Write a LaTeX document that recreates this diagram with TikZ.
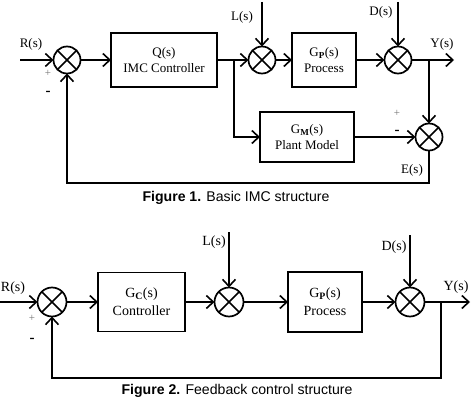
\documentclass[tikz,border=0pt]{standalone}
\usepackage{fontspec}
\setmainfont{Liberation Serif}
\newfontfamily\capfont{Liberation Sans}
\usetikzlibrary{arrows.meta}
\begin{document}
\begin{tikzpicture}[x=1pt,y=-1pt,
  line width=1.7pt,
  arr/.style={-{Straight Barb[length=7pt,width=13pt,line width=1.6pt]}},
  sumnode/.style={circle,draw,minimum size=27pt,inner sep=0pt,outer sep=0pt,
    path picture={\draw (path picture bounding box.center) ++(45:16pt) -- ++(225:32pt)
      (path picture bounding box.center) ++(135:16pt) -- ++(-45:32pt);}},
  sumbig/.style={sumnode,minimum size=29pt},
  block/.style={draw,rectangle,inner sep=0pt,outer sep=0pt,align=center},
  lblA/.style={inner sep=0pt,font=\fontsize{13}{16}\selectfont},
  lblB/.style={inner sep=0pt,font=\fontsize{14}{18}\selectfont},
  plus/.style={inner sep=0pt,text=black!55,font=\fontsize{11}{11}\selectfont},
  minus/.style={inner sep=0pt,font=\fontsize{15}{15}\selectfont\bfseries},
  captext/.style={inner sep=0pt,font=\capfont\fontsize{14.1}{16}\selectfont}
]
\useasboundingbox (0,0) rectangle (474,401);

% ---------------- Figure 1 ----------------
\coordinate (rin1) at (20,60);
\node[sumnode] (c1) at (67,60) {};
\node[block,lblA,minimum width=106pt,minimum height=54pt] (Q) at (164,60) {Q(s)\\IMC Controller};
\coordinate (b1) at (234,60);
\node[sumnode] (c2) at (262,60) {};
\node[block,lblA,minimum width=64pt,minimum height=54pt] (GP1) at (324,60) {G\textsubscript{\textbf{P}}(s)\\Process};
\node[sumnode] (c3) at (398,60) {};
\coordinate (b2) at (429,60);
\coordinate (yout1) at (454,60);
\node[sumnode] (c4) at (429,137) {};
\node[block,lblA,minimum width=94pt,minimum height=50pt] (GM) at (307,137) {G\textsubscript{\textbf{M}}(s)\\Plant Model};
\coordinate (ltop1) at (262,2);
\coordinate (dtop1) at (398,2);
\coordinate (fb1) at (429,183);

\node[lblA] (R1) at (31,44) {R(s)};
\node[lblA] (L1) at (242,17) {L(s)};
\node[lblA] (D1) at (381,12) {D(s)};
\node[lblA] (Y1) at (442,44) {Y(s)};
\node[lblA] (E1) at (412,170) {E(s)};
\node[plus] (p1) at (48,73) {+};
\node[minus] (m1) at (48,93) {-};
\node[plus] (p2) at (397,113) {+};
\node[minus] (m2) at (397,132) {-};

\draw[arr] (rin1) -- (c1);
\draw[arr] (c1) -- (Q);
\draw (Q) -- (b1);
\draw[arr] (b1) -- (c2);
\draw[arr] (ltop1) -- (c2);
\draw[arr] (c2) -- (GP1);
\draw[arr] (GP1) -- (c3);
\draw[arr] (dtop1) -- (c3);
\draw (c3) -- (b2);
\draw[arr] (b2) -- (yout1);
\draw[arr] (b1) |- (GM.west);
\draw[arr] (b2) -- (c4);
\draw[arr] (GM) -- (c4);
\draw[arr] (c4) -- (fb1) -| (c1);

\node[captext] (cap1) at (236,198) {\textbf{Figure 1.} Basic IMC structure};

% ---------------- Figure 2 ----------------
\coordinate (rin2) at (0,302);
\node[sumbig] (cA) at (52,302) {};
\node[block,lblB,minimum width=87pt,minimum height=59pt] (GC) at (141.5,302) {G\textsubscript{\textbf{C}}(s)\\Controller};
\node[sumbig] (cB) at (229,302) {};
\node[block,lblB,minimum width=74pt,minimum height=60pt] (GP2) at (325,302) {G\textsubscript{\textbf{P}}(s)\\Process};
\node[sumbig] (cC) at (410,302) {};
\coordinate (b3) at (441,302);
\coordinate (yout2) at (470,302);
\coordinate (ltop2) at (229,232);
\coordinate (dtop2) at (410,235);
\coordinate (fb2) at (441,378);

\node[lblB] (R2) at (13,288) {R(s)};
\node[lblB] (L2) at (214,242) {L(s)};
\node[lblB] (D2) at (394,247) {D(s)};
\node[lblB] (Y2) at (456,287) {Y(s)};
\node[plus] (p3) at (32,318) {+};
\node[minus] (m3) at (32,340) {-};

\draw[arr] (rin2) -- (cA);
\draw[arr] (cA) -- (GC);
\draw[arr] (GC) -- (cB);
\draw[arr] (ltop2) -- (cB);
\draw[arr] (cB) -- (GP2);
\draw[arr] (GP2) -- (cC);
\draw[arr] (dtop2) -- (cC);
\draw (cC) -- (b3);
\draw[arr] (b3) -- (yout2);
\draw[arr] (b3) -- (fb2) -| (cA);

\node[captext] (cap2) at (237,391) {\textbf{Figure 2.} Feedback control structure};
\end{tikzpicture}
\end{document}
